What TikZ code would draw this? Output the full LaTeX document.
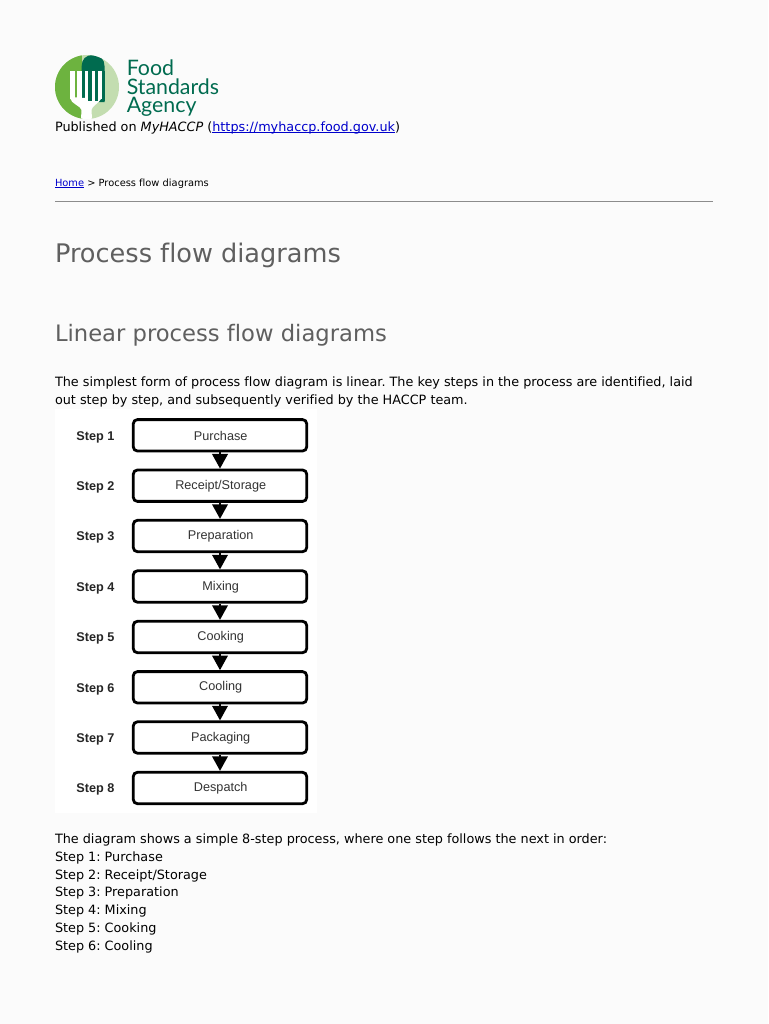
\documentclass[tikz,border=0pt]{standalone}
\usepackage{fontspec}
\usetikzlibrary{arrows.meta}
\setmainfont{DejaVu Sans}[Ligatures=NoCommon]
\newfontfamily\logofont{Lato}
\newfontfamily\boxfont{Liberation Sans}
\newcommand{\rstxt}{Receipt/Storage}
\newcommand{\ulink}[1]{\setbox0=\hbox{#1}\rlap{\vrule width\wd0 height -0.9pt depth 1.5pt}#1}
\definecolor{pagebg}{HTML}{FBFBFB}
\definecolor{headgrey}{HTML}{5F5F5F}
\definecolor{linkblue}{HTML}{0000CC}
\definecolor{fsagreen}{HTML}{006B4F}
\definecolor{fsalight}{HTML}{6DB33F}
\definecolor{fsapale}{HTML}{C3DDB0}
\tikzset{
  txt/.style={anchor=base west,inner sep=0pt,outer sep=0pt,font=\frenchspacing\fontsize{9.6pt}{12pt}\selectfont,text=black},
  small/.style={txt,font=\frenchspacing\fontsize{7.4pt}{10pt}\selectfont},
  hone/.style={txt,font=\fontsize{19.2pt}{24pt}\selectfont,text=headgrey},
  htwo/.style={txt,font=\fontsize{17pt}{21pt}\selectfont,text=headgrey},
  logot/.style={anchor=base west,inner sep=0pt,font=\logofont\fontsize{16pt}{18pt}\selectfont,text=fsagreen},
  stepbox/.style={draw=black,line width=2.1pt,rounded corners=3pt,minimum width=130pt,minimum height=23.5pt,inner sep=0pt,font=\boxfont\fontsize{9.5pt}{10pt}\selectfont,text={black!80}},
  boxtext/.style={inner sep=0pt,font=\boxfont\fontsize{9.5pt}{10pt}\selectfont,text={black!80}},
  steplab/.style={inner sep=0pt,font=\boxfont\bfseries\fontsize{9.5pt}{10pt}\selectfont,text={black!85}},
  flow/.style={line width=2pt,draw=black,-{Triangle[length=11pt,width=11.5pt]}}
}
\begin{document}
\begin{tikzpicture}[x=0.75pt,y=-0.75pt]
\useasboundingbox (0,0) rectangle (768,1024);
\fill[pagebg] (0,0) rectangle (768,1024);
% logo
\fill[fsapale] (87,87) circle (32);
\begin{scope}
\clip (87,87) circle (32);
\fill[fsalight] (55,55) rectangle (82,119);
\fill[fsagreen] (81.7,102) -- (81.7,66) .. controls (81.7,59) and (86,55) .. (93,55) .. controls (100,55) and (104.5,59) .. (104.5,66) -- (104.5,102) -- cycle;
\fill[white] (70,98) .. controls (71,104) and (81,106) .. (81.5,110) -- (81,119) -- (92,119) -- (91.5,110) .. controls (92,106) and (99,103) .. (101,99) -- (70,97) -- cycle;
\foreach \l/\r in {70/75,76.7/81.7,85/88,92/95,98/101.7}{
  \fill[white] (\l,71) rectangle (\r,99);
}
\fill[fsagreen] (88,71) rectangle (92,101);
\fill[fsagreen] (95,71) rectangle (98,101);
\fill[fsagreen] (101.7,71) rectangle (104.5,101);
\end{scope}
\node[logot] (l1) at (126.5,75.5) {Food};
\node[logot] (l2) at (126.5,94.5) {Standards};
\node[logot] (l3) at (126.5,113) {Agency};
% header text
\node[txt] (pub) at (55,131) {Published on \textit{MyHACCP} (\textcolor{linkblue}{\ulink{https://myhaccp.food.gov.uk}})};
\node[small] (bc) at (55,186) {\textcolor{linkblue}{\ulink{Home}} > Process flow diagrams};
\draw[black!45,line width=0.75pt] (55,201.5) -- (713,201.5);
\node[hone] (h1) at (55,262) {Process flow diagrams};
\node[htwo] (h2) at (55,341) {Linear process flow diagrams};
\node[txt] (p1) at (55,386.5) {The simplest form of process flow diagram is linear. The key steps in the process are identified, laid};
\node[txt] (p2) at (55,404.5) {out step by step, and subsequently verified by the HACCP team.};
% diagram background
\fill[white] (55,409) rectangle (317,813);
% boxes
\foreach \n/\y/\t in {1/435.3/Purchase,2/485.7/\rstxt,3/536/Preparation,4/586.5/Mixing,5/637/Cooking,6/687.3/Cooling,7/737.5/Packaging,8/788/Despatch}{
  \node[stepbox] (b\n) at (220,\y) {};
  \node[boxtext] (c\n) at (220.7,\y+0.3) {\t};
  \node[steplab,anchor=center] (s\n) at (95.5,\y+1.8) {Step \n};
}
\foreach \a/\b in {1/2,2/3,3/4,4/5,5/6,6/7,7/8}{
  \draw[flow] (b\a.south) -- (b\b.north);
}
% body text
\node[txt] (t0) at (55,843) {The diagram shows a simple 8-step process, where one step follows the next in order:};
\node[txt] (t1) at (55,861) {Step 1: Purchase};
\node[txt] (t2) at (55,879) {Step 2: Receipt/Storage};
\node[txt] (t3) at (55,896.5) {Step 3: Preparation};
\node[txt] (t4) at (55,914.5) {Step 4: Mixing};
\node[txt] (t5) at (55,932.5) {Step 5: Cooking};
\node[txt] (t6) at (55,950) {Step 6: Cooling};
\end{tikzpicture}
\end{document}
